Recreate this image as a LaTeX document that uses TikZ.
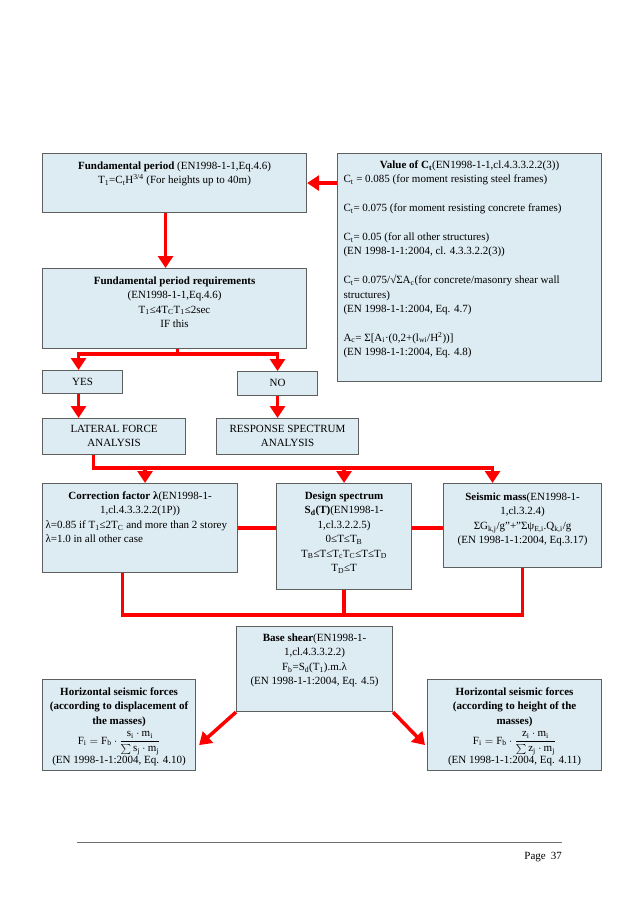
\documentclass[tikz,border=0pt]{standalone}
\usepackage{fontspec}
\setmainfont{Liberation Serif}
\usetikzlibrary{arrows.meta,calc}
\definecolor{boxblue}{RGB}{221,235,242}
\definecolor{boxline}{RGB}{95,95,95}
\definecolor{flowred}{RGB}{255,0,0}
\definecolor{footgray}{RGB}{110,110,110}
\newcommand\boxtext[4]{\parbox[c][#2][t]{#1}{\fontsize{11}{14.4}\selectfont\leavevmode\rule{0pt}{#3}#4}}
\newcommand\sbs[1]{\textsubscript{#1}}
\newcommand\sps[1]{\textsuperscript{#1}}
\tikzset{
  box/.style={draw=boxline, fill=boxblue, line width=1.1pt, inner ysep=0pt, inner xsep=4pt, anchor=north west},
  flow/.style={draw=flowred, line width=3.5pt},
  arr/.style={flow, -{Triangle[width=15pt,length=12pt]}},
  footline/.style={draw=footgray, line width=0.8pt}
}
\begin{document}
\begin{tikzpicture}[x=1pt,y=-1pt]
\useasboundingbox (0,0) rectangle (638,903);

\node[box] (fp) at (42,153) {\boxtext{256pt}{59pt}{16pt}{\centering\textbf{Fundamental period} (EN1998-1-1,Eq.4.6)\\ T\sbs{1}=C\sbs{t}H\sps{3/4} (For heights up to 40m)}};

\node[box, inner xsep=6pt] (ct) at (337,153) {\boxtext{252pt}{228pt}{15pt}{{\centering\textbf{Value of C\sbs{t}}(EN1998-1-1,cl.4.3.3.2.2(3))\par}\raggedright
C\sbs{t} = 0.085 (for moment resisting steel frames)\\[14.4pt]
C\sbs{t}= 0.075 (for moment resisting concrete frames)\\[14.4pt]
C\sbs{t}= 0.05 (for all other structures)\\
(EN 1998-1-1:2004, cl. 4.3.3.2.2(3))\\[14.4pt]
C\sbs{t}= 0.075/√ΣA\sbs{c}(for concrete/masonry shear wall\\
structures)\\
(EN 1998-1-1:2004, Eq. 4.7)\\[14.4pt]
A\sbs{c}= Σ[A\sbs{i}·(0,2+(l\sbs{wi}/H\sps{2}))]\\
(EN 1998-1-1:2004, Eq. 4.8)}};

\node[box] (fpr) at (42,268) {\boxtext{256pt}{80pt}{16pt}{\centering\textbf{Fundamental period requirements}\\ (EN1998-1-1,Eq.4.6)\\ T\sbs{1}≤4T\sbs{C}T\sbs{1}≤2sec\\ IF this}};

\node[box] (yes) at (42,370) {\boxtext{72pt}{23pt}{15pt}{\centering YES}};
\node[box] (no) at (237,371) {\boxtext{72pt}{24pt}{15pt}{\centering NO}};

\node[box] (lat) at (42,418) {\boxtext{135pt}{36pt}{14pt}{\centering LATERAL FORCE\\ ANALYSIS}};
\node[box] (resp) at (216,418) {\boxtext{134pt}{36pt}{14pt}{\centering RESPONSE SPECTRUM\\ ANALYSIS}};

\node[box, inner xsep=3pt] (corr) at (42,483) {\boxtext{189pt}{89pt}{16pt}{{\centering\textbf{Correction factor λ}(EN1998-1-\\ 1,cl.4.3.3.2.2(1P))\par}\raggedright
λ=0.85 if T\sbs{1}≤2T\sbs{C} and more than 2 storey\\
λ=1.0 in all other case}};

\node[box] (des) at (276,483) {\boxtext{127pt}{106pt}{16pt}{\centering\textbf{Design spectrum}\\ \textbf{S\sbs{d}(T)}(EN1998-1-\\ 1,cl.3.2.2.5)\\ 0≤T≤T\sbs{B}\\ T\sbs{B}≤T≤T\sbs{c}T\sbs{C}≤T≤T\sbs{D}\\ T\sbs{D}≤T}};

\node[box] (mass) at (443,483) {\boxtext{150pt}{84pt}{17pt}{\centering\textbf{Seismic mass}(EN1998-1-\\ 1,cl.3.2.4)\\ ΣG\sbs{k,j}/g”+”Σψ\sbs{E,i}.Q\sbs{k,i}/g\\ (EN 1998-1-1:2004, Eq.3.17)}};

\node[box] (base) at (236,626) {\boxtext{148pt}{85pt}{15pt}{\centering\textbf{Base shear}(EN1998-1-\\ 1,cl.4.3.3.2.2)\\ F\sbs{b}=S\sbs{d}(T\sbs{1}).m.λ\\ (EN 1998-1-1:2004, Eq. 4.5)}};

\node[box] (hl) at (42,679) {\boxtext{145pt}{91pt}{16pt}{\centering\textbf{Horizontal seismic forces\\ (according to displacement of\\ the masses)}\\[4pt]
$\displaystyle\mathrm{F_i}=\mathrm{F_b}\cdot\frac{\mathrm{s_i}\cdot\mathrm{m_i}}{\sum\mathrm{s_j}\cdot\mathrm{m_j}}$\\[0pt]
(EN 1998-1-1:2004, Eq. 4.10)}};

\node[box] (hr) at (427,679) {\boxtext{166pt}{91pt}{16pt}{\centering\textbf{Horizontal seismic forces\\ (according to height of the\\ masses)}\\[4pt]
$\displaystyle\mathrm{F_i}=\mathrm{F_b}\cdot\frac{\mathrm{z_i}\cdot\mathrm{m_i}}{\sum\mathrm{z_j}\cdot\mathrm{m_j}}$\\[0pt]
(EN 1998-1-1:2004, Eq. 4.11)}};

% connectors
\draw[arr] (ct.west |- fp.east) -- (fp.east);
\coordinate (a1) at ($(fp.south)+(-9,0)$);
\draw[arr] (a1) -- (a1 |- fpr.north);

\coordinate (s1) at ($(fpr.south)+(3,0)$);
\coordinate (j1) at ($(fpr.south)+(3,5)$);
\coordinate (y1) at ($(yes.north)+(-4,0)$);
\draw[flow] (s1) -- (j1);
\draw[arr] (j1) -| (y1);
\draw[arr] (j1) -| (no.north);

\coordinate (y2) at ($(yes.south)+(-4,0)$);
\draw[arr] (y2) -- (y2 |- lat.north);
\draw[arr] (no.south) -- (no.south |- resp.north);

\coordinate (l1) at ($(lat.south)+(-20.5,0)$);
\coordinate (J) at ($(lat.south)+(0,13)$);
\coordinate (c1) at ($(corr.north)+(5,0)$);
\coordinate (c3) at ($(mass.north)+(-30,0)$);
\draw[arr] (l1) |- (c3 |- J) -- (c3);
\draw[arr] (c1 |- J) -- (c1);
\draw[arr] (des.north |- J) -- (des.north);

\draw[flow] (corr.east) -- (corr.east -| des.west);
\draw[flow] (des.east |- corr.east) -- (mass.west |- corr.east);

\coordinate (K) at ($(base.north)+(0,-11)$);
\coordinate (b1) at ($(corr.south)+(-17.5,0)$);
\draw[flow] (b1) |- (mass.south |- K) -- (mass.south);
\draw[flow] (des.south) -- (des.south |- K);

\draw[arr] (base.south west) -- ($(hl.east)+(3,20)$);
\draw[arr] (base.south east) -- ($(hr.west)+(-2,20)$);

% footer
\draw[footline] (77,842) -- (562,842);
\node[anchor=base east, inner sep=0pt, font=\fontsize{11}{13}\selectfont] (pg) at (562,859) {Page\hspace{5pt}37};
\end{tikzpicture}
\end{document}
